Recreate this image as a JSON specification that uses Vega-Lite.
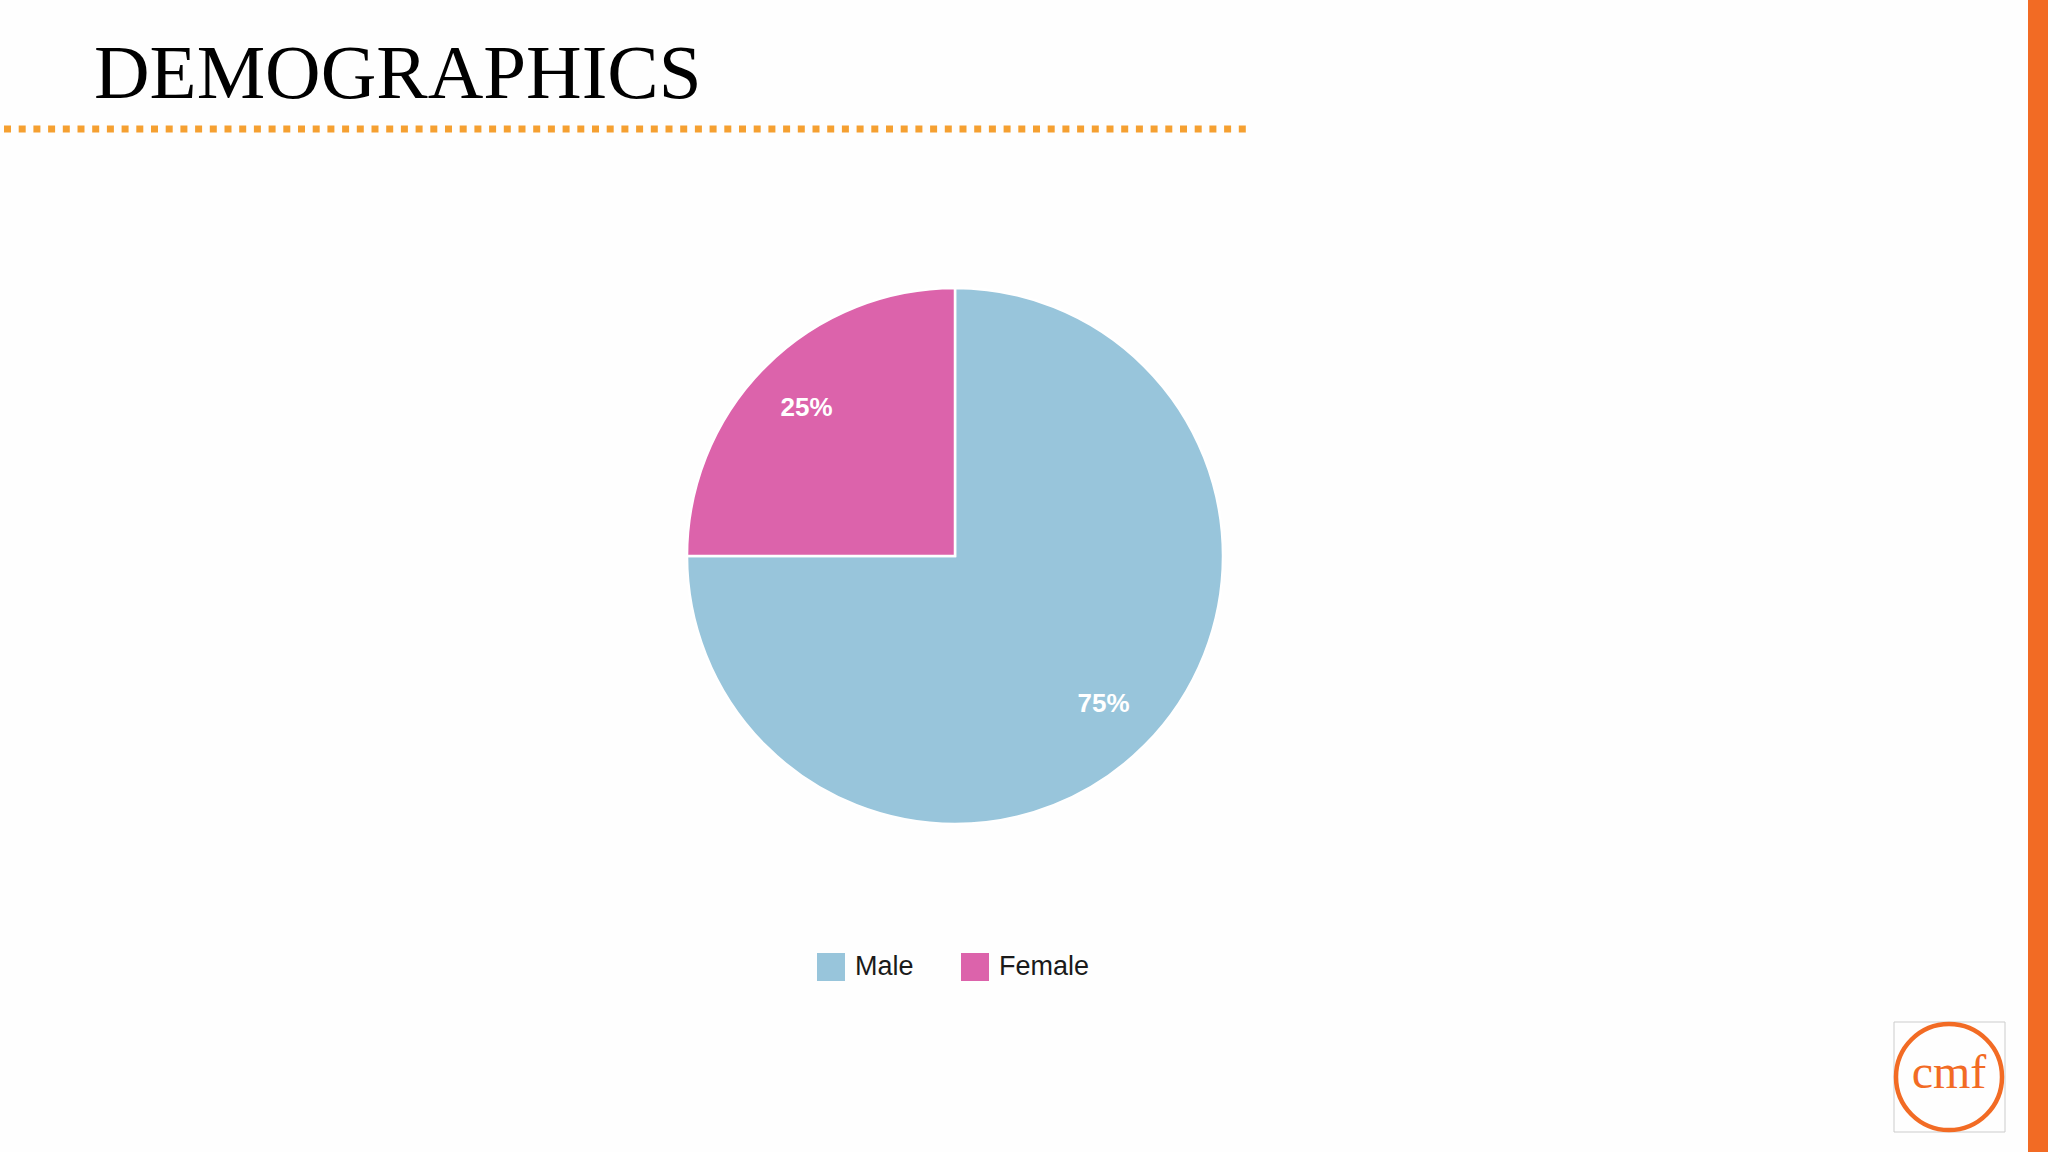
{
  "$schema": "https://vega.github.io/schema/vega-lite/v6.json",
  "autosize": {"type": "none"},
  "width": 1910,
  "height": 1112,
  "padding": {"left": 0, "top": 0, "right": 138, "bottom": 40},
  "background": "#fefefe",
  "config": {"view": {"stroke": null}},
  "layer": [
    {
      "data": {"values": [{}]},
      "mark": {"type": "rect", "color": "#F26B24"},
      "encoding": {
        "x": {"datum": 2028, "type": "quantitative", "scale": {"domain": [0, 1910], "nice": false, "zero": false}, "axis": null},
        "x2": {"datum": 2048},
        "y": {"datum": 0, "type": "quantitative", "scale": {"domain": [0, 1112], "reverse": true, "nice": false, "zero": false}, "axis": null},
        "y2": {"datum": 1152}
      }
    },
    {
      "data": {"values": [{}]},
      "mark": {"type": "rule", "color": "#F5A031", "strokeWidth": 7, "strokeDash": [7, 7.7], "strokeCap": "butt"},
      "encoding": {
        "x": {"datum": 4, "type": "quantitative", "scale": {"domain": [0, 1910], "nice": false, "zero": false}, "axis": null},
        "x2": {"datum": 1246},
        "y": {"datum": 129, "type": "quantitative", "scale": {"domain": [0, 1112], "reverse": true, "nice": false, "zero": false}, "axis": null}
      }
    },
    {
      "data": {"values": [{}]},
      "mark": {"type": "text", "text": "DEMOGRAPHICS", "font": "Liberation Serif", "fontSize": 77, "color": "#000000", "align": "left", "baseline": "alphabetic"},
      "encoding": {
        "x": {"datum": 94, "type": "quantitative", "scale": {"domain": [0, 1910], "nice": false, "zero": false}, "axis": null},
        "y": {"datum": 98, "type": "quantitative", "scale": {"domain": [0, 1112], "reverse": true, "nice": false, "zero": false}, "axis": null}
      }
    },
    {
      "data": {"values": [{}]},
      "mark": {"type": "rect", "fill": null, "fillOpacity": 0, "stroke": "#cccccc", "strokeWidth": 1},
      "encoding": {
        "x": {"datum": 1894, "type": "quantitative", "scale": {"domain": [0, 1910], "nice": false, "zero": false}, "axis": null},
        "x2": {"datum": 2005},
        "y": {"datum": 1022, "type": "quantitative", "scale": {"domain": [0, 1112], "reverse": true, "nice": false, "zero": false}, "axis": null},
        "y2": {"datum": 1132}
      }
    },
    {
      "data": {"values": [{}]},
      "mark": {"type": "point", "shape": "circle", "filled": false, "size": 11236, "stroke": "#F26B24", "strokeWidth": 4.5, "opacity": 1},
      "encoding": {
        "x": {"datum": 1949, "type": "quantitative", "scale": {"domain": [0, 1910], "nice": false, "zero": false}, "axis": null},
        "y": {"datum": 1077, "type": "quantitative", "scale": {"domain": [0, 1112], "reverse": true, "nice": false, "zero": false}, "axis": null}
      }
    },
    {
      "data": {"values": [{}]},
      "mark": {"type": "text", "text": "cmf", "font": "Liberation Serif", "fontSize": 48, "color": "#F26B24", "align": "center", "baseline": "middle"},
      "encoding": {
        "x": {"datum": 1949, "type": "quantitative", "scale": {"domain": [0, 1910], "nice": false, "zero": false}, "axis": null},
        "y": {"datum": 1074, "type": "quantitative", "scale": {"domain": [0, 1112], "reverse": true, "nice": false, "zero": false}, "axis": null}
      }
    },
    {
      "data": {"values": [
        {"gender": "Male", "share": 0.75},
        {"gender": "Female", "share": 0.25}
      ]},
      "layer": [
        {
          "mark": {"type": "arc", "outerRadius": 268, "stroke": "#ffffff", "strokeWidth": 2.5},
          "encoding": {
            "theta": {"field": "share", "type": "quantitative", "stack": true},
            "order": {"field": "share", "sort": "descending"},
            "color": {
              "field": "gender",
              "type": "nominal",
              "scale": {"domain": ["Male", "Female"], "range": ["#98C5DB", "#DC63AB"]},
              "legend": {
                "title": null,
                "orient": "none",
                "direction": "horizontal",
                "legendX": 817,
                "legendY": 953,
                "padding": 0,
                "symbolType": "square",
                "symbolSize": 784,
                "symbolStrokeWidth": 0,
                "symbolOpacity": 1,
                "labelFont": "Liberation Sans",
                "labelFontSize": 27,
                "labelColor": "#1a1a1a",
                "labelOffset": 10,
                "columnPadding": 47
              }
            }
          }
        },
        {
          "mark": {"type": "text", "radius": 210, "font": "Liberation Sans", "fontWeight": "bold", "fontSize": 26, "color": "#ffffff", "align": "center", "baseline": "middle"},
          "encoding": {
            "theta": {"field": "share", "type": "quantitative", "stack": true},
            "order": {"field": "share", "sort": "descending"},
            "text": {"field": "share", "type": "quantitative", "format": ".0%"}
          }
        }
      ]
    }
  ]
}
